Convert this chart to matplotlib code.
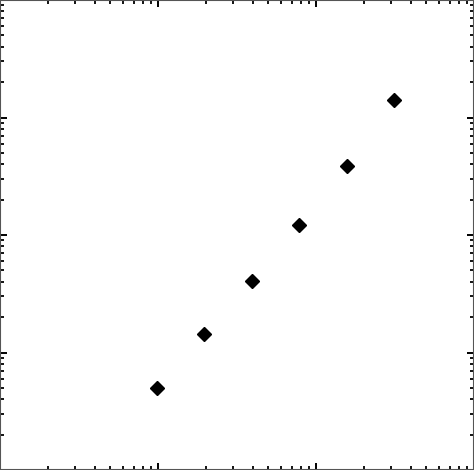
import numpy as np
import matplotlib
matplotlib.use("Agg")
import matplotlib.pyplot as plt
from matplotlib.ticker import LogLocator, NullFormatter

# values
x_vals = [9.86, 19.6, 39.3, 78.4, 156.3, 311]
y_vals = [5.0, 14.3, 40.7, 121, 387, 1403]

fig = plt.figure(figsize=(4.74, 4.70), dpi=100)
ax = fig.add_axes([0, 0, 1, 1])

ax.plot(x_vals, y_vals, linestyle="none", marker="D", markersize=7.5, color="black")

ax.set_xscale("log")
ax.set_yscale("log")
ax.set_xlim(1, 1000)
ax.set_ylim(1, 1e4)

ax.xaxis.set_major_locator(LogLocator(base=10))
ax.xaxis.set_minor_locator(LogLocator(base=10, subs=np.arange(2, 10)))
ax.yaxis.set_major_locator(LogLocator(base=10))
ax.yaxis.set_minor_locator(LogLocator(base=10, subs=np.arange(2, 10)))
ax.xaxis.set_major_formatter(NullFormatter())
ax.xaxis.set_minor_formatter(NullFormatter())
ax.yaxis.set_major_formatter(NullFormatter())
ax.yaxis.set_minor_formatter(NullFormatter())

ax.tick_params(which="both", direction="in", top=True, right=True, color="black")
ax.tick_params(which="major", length=5, width=1.4)
ax.tick_params(which="minor", length=3, width=1.3)

for s in ax.spines.values():
    s.set_color("#555555")
    s.set_linewidth(1.5)

fig.savefig("out.png", dpi=100)
